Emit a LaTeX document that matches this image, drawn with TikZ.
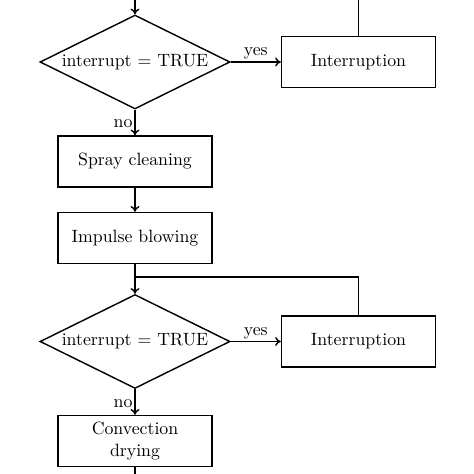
\documentclass[tikz,border=0pt]{standalone}
\usetikzlibrary{shapes.geometric,arrows.meta}
\begin{document}
\begin{tikzpicture}[x=0.562pt,y=-0.562pt,
  every path/.style={line width=0.8pt},
  procbox/.style={draw,line width=0.8pt,rectangle,minimum width=86.5pt,minimum height=28.7pt,inner sep=0pt,align=center},
  decbox/.style={draw,line width=0.8pt,diamond,aspect=2.02,minimum width=106.8pt,minimum height=52.8pt,inner sep=0pt},
  flow/.style={-{To[length=3.2pt,width=5pt]},line width=0.8pt},
  plain/.style={line width=0.8pt},
  lbl/.style={inner sep=1pt}]
\useasboundingbox (0,0) rectangle (474,474);
\coordinate (top) at (135,0);
\coordinate (topright) at (358.5,0);
\coordinate (bottom) at (135,474);
\coordinate (junction) at (135,277);
\node[decbox] (d1) at (135,62) {interrupt = TRUE};
\node[procbox] (i1) at (358.5,62) {Interruption};
\node[procbox] (spray) at (135,161.5) {Spray cleaning};
\node[procbox] (impulse) at (135,238) {Impulse blowing};
\node[decbox] (d2) at (135,341.5) {interrupt = TRUE};
\node[procbox] (i2) at (358.5,341.5) {Interruption};
\node[procbox] (conv) at (135,441) {Convection\\drying};
\draw[flow] (top) -- (d1.north);
\draw[plain] (i1.north) -- (topright);
\draw[flow] (d1.east) -- node[lbl,above] {yes} (i1.west);
\draw[flow] (d1.south) -- node[lbl,left,pos=0.55] {no} (spray.north);
\draw[flow] (spray.south) -- (impulse.north);
\draw[plain] (impulse.south) -- (junction);
\draw[flow] (junction) -- (d2.north);
\draw[plain] (i2.north) |- (junction);
\draw[flow] (d2.east) -- node[lbl,above] {yes} (i2.west);
\draw[flow] (d2.south) -- node[lbl,left,pos=0.55] {no} (conv.north);
\draw[plain] (conv.south) -- (bottom);
\end{tikzpicture}
\end{document}
